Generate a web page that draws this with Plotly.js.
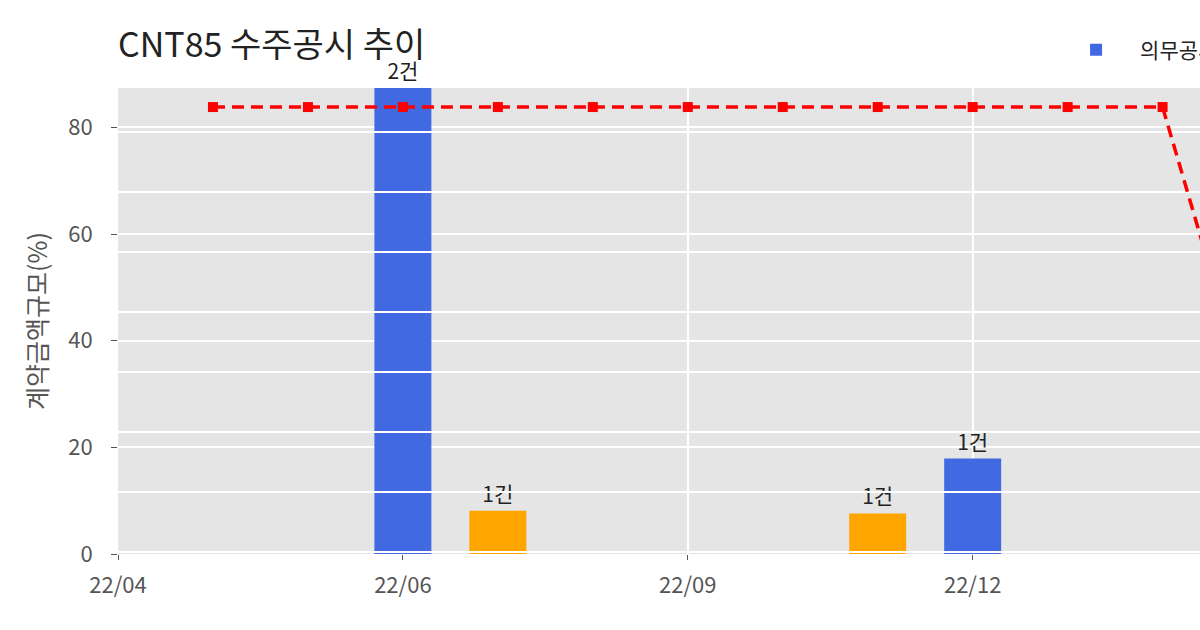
<!DOCTYPE html>
<html>
<head>
<meta charset="utf-8">
<script src="https://cdn.plot.ly/plotly-3.0.1.min.js"></script>
<style>
  html, body { margin: 0; padding: 0; background: #fff; }
  #wrap { width: 1200px; height: 630px; overflow: hidden; }
  #chart_myDiv { width: 1800px; height: 630px; }
</style>
</head>
<body>
<div id="wrap"><div id="chart_myDiv"></div></div>
<script>
// month index 0 = first tick on the axis
var xTickVals = [0, 3, 6, 9, 12];
var xTickText = ['22/04', '22/06', '22/09', '22/12', '23/03'];

// 의무공시 (blue)
var mandatoryX = [3, 9];
var mandatoryY = [87.4, 17.9];
var mandatoryText = ['2건', '1건'];

// 자율공시 (orange)
var voluntaryX = [4, 8];
var voluntaryY = [8.1, 7.6];
var voluntaryText = ['1건', '1건'];

// red dashed line, right axis
var lineX = [1, 2, 3, 4, 5, 6, 7, 8, 9, 10, 11, 12];
var lineY = [74.1, 74.1, 74.1, 74.1, 74.1, 74.1, 74.1, 74.1, 74.1, 74.1, 74.1, 20.1];

var chartTitle = 'CNT85 수주공시 추이';
var yTitle = '계약금액규모(%)';

var fontFamily = '"Noto Sans CJK KR", "Noto Sans", sans-serif';
var xRange = [0, 13.5];

function drawChart() {
  var mandatoryBar = {
    x: mandatoryX, y: mandatoryY, type: 'bar', name: '의무공시',
    width: 0.6,
    marker: {color: '#4169e1'},
    text: mandatoryText, textposition: 'outside', cliponaxis: false,
    textfont: {family: fontFamily, size: 21, color: '#222'},
    xaxis: 'x', yaxis: 'y'
  };
  var voluntaryBar = {
    x: voluntaryX, y: voluntaryY, type: 'bar', name: '자율공시',
    width: 0.6,
    marker: {color: '#ffa500'},
    text: voluntaryText, textposition: 'outside', cliponaxis: false,
    textfont: {family: fontFamily, size: 21, color: '#222'},
    xaxis: 'x', yaxis: 'y'
  };
  var ratioLine = {
    x: lineX, y: lineY, type: 'scatter', mode: 'lines+markers', name: '유통비율',
    line: {color: '#ff0000', width: 3.5, dash: '12px,7px'},
    marker: {symbol: 'square', size: 10, color: '#ff0000'},
    xaxis: 'x2', yaxis: 'y2'
  };

  var layout = {
    width: 1800,
    height: 630,
    margin: {l: 118, r: 400, t: 88, b: 76},
    paper_bgcolor: '#ffffff',
    plot_bgcolor: 'rgba(0,0,0,0)',
    font: {family: fontFamily, size: 22, color: '#555'},
    barmode: 'overlay',
    showlegend: true,
    title: {
      text: chartTitle,
      font: {family: fontFamily, size: 34, color: '#222'},
      xref: 'paper', x: 0, xanchor: 'left',
      yref: 'container', y: 1 - 45 / 630, yanchor: 'middle'
    },
    legend: {
      orientation: 'h',
      x: 0.7286, xanchor: 'left',
      y: 1.0815, yanchor: 'middle',
      itemwidth: 78,
      font: {family: fontFamily, size: 21, color: '#222'},
      bgcolor: 'rgba(0,0,0,0)'
    },
    // grey panel behind both layers
    shapes: [{
      type: 'rect', xref: 'paper', yref: 'paper',
      x0: 0, x1: 1, y0: 0, y1: 1,
      fillcolor: '#e5e5e5', line: {width: 0}, layer: 'below'
    }],
    xaxis: {
      range: xRange,
      tickvals: xTickVals, ticktext: xTickText,
      showgrid: true, gridcolor: '#ffffff', gridwidth: 1.5,
      zeroline: false, showline: false,
      ticks: 'outside', ticklen: 5, tickcolor: '#555',
      ticklabelstandoff: 7,
      tickfont: {family: fontFamily, size: 22, color: '#555'}
    },
    yaxis: {
      range: [0, 87.4],
      tickvals: [0, 20, 40, 60, 80],
      showgrid: true, gridcolor: '#ffffff', gridwidth: 1.5,
      zeroline: false, showline: false,
      ticks: 'outside', ticklen: 6, tickcolor: '#555',
      ticklabelstandoff: 14,
      tickfont: {family: fontFamily, size: 22, color: '#555'},
      title: {text: yTitle, standoff: 13, font: {family: fontFamily, size: 25, color: '#555'}}
    },
    xaxis2: {
      range: xRange, anchor: 'y2', domain: [0, 1],
      showgrid: false, zeroline: false, showline: false,
      showticklabels: false, ticks: ''
    },
    yaxis2: {
      range: [-0.3, 77.27], anchor: 'x2', side: 'right', domain: [0, 1],
      tick0: 0, dtick: 10,
      showgrid: true, gridcolor: '#ffffff', gridwidth: 1.5,
      zeroline: false, showline: false,
      ticks: 'outside', ticklen: 6, tickcolor: '#555',
      tickfont: {family: fontFamily, size: 22, color: '#555'}
    }
  };

  Plotly.newPlot('chart_myDiv', [mandatoryBar, voluntaryBar, ratioLine], layout, {displayModeBar: false, responsive: false});
}

drawChart();
</script>
</body>
</html>
